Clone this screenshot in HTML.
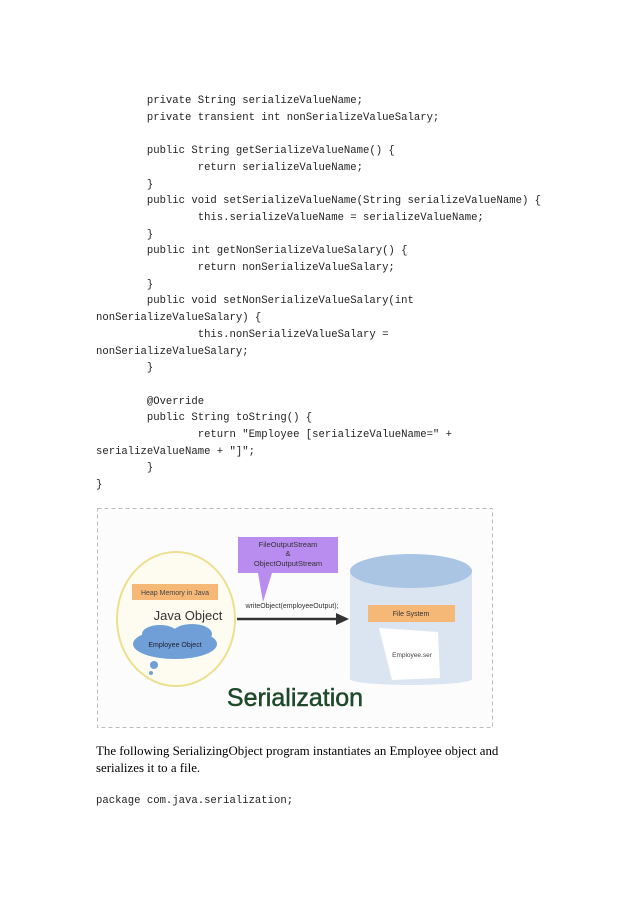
<!DOCTYPE html>
<html><head><meta charset="utf-8"><style>
body{margin:0;width:638px;height:902px;background:#fff;position:relative;overflow:hidden}
pre{position:absolute;left:96px;top:93px;margin:0;font-family:"Liberation Mono","Noto Sans CJK SC",monospace;font-size:10.6px;line-height:16.7px;color:#222}
.t{position:absolute;left:96px;font-family:"Liberation Serif",serif;font-size:12.9px;color:#000}
</style></head><body>
<pre>        private String serializeValueName;
        private transient int nonSerializeValueSalary;

        public String getSerializeValueName() {
                return serializeValueName;
        }
        public void setSerializeValueName(String serializeValueName) {
                this.serializeValueName = serializeValueName;
        }
        public int getNonSerializeValueSalary() {
                return nonSerializeValueSalary;
        }
        public void setNonSerializeValueSalary(int
nonSerializeValueSalary) {
                this.nonSerializeValueSalary =
nonSerializeValueSalary;
        }

        @Override
        public String toString() {
                return "Employee [serializeValueName=" +
serializeValueName + "]";
        }
}</pre>
<svg style="position:absolute;left:0;top:0" width="638" height="902" font-family="Liberation Sans, sans-serif">
<rect x="97.5" y="508.5" width="395" height="219" fill="#fcfcfc" stroke="#bbb" stroke-dasharray="4,3"/>
<ellipse cx="176" cy="619" rx="59" ry="67" fill="#fefcf0" stroke="#ecdf90" stroke-width="2"/>
<rect x="132" y="584" width="86" height="16" fill="#f6b877"/>
<text x="175" y="595" font-size="7" text-anchor="middle" fill="#444">Heap Memory in Java</text>
<text x="188" y="620" font-size="13" text-anchor="middle" fill="#333">Java Object</text>
<ellipse cx="175" cy="644" rx="42" ry="15" fill="#6f9fd6"/>
<ellipse cx="160" cy="634" rx="18" ry="9" fill="#6f9fd6"/>
<ellipse cx="192" cy="634" rx="20" ry="10" fill="#6f9fd6"/>
<text x="175" y="647" font-size="7" text-anchor="middle" fill="#223">Employee Object</text>
<circle cx="154" cy="665" r="4" fill="#6f9fd6"/><circle cx="151" cy="673" r="2" fill="#6f9fd6"/>
<rect x="238" y="537" width="100" height="36" fill="#b98cf0"/>
<polygon points="258,573 272,573 263,602" fill="#b98cf0"/>
<text x="288" y="547" font-size="7.5" text-anchor="middle" fill="#333">FileOutputStream</text>
<text x="288" y="556" font-size="7.5" text-anchor="middle" fill="#333">&amp;</text>
<text x="288" y="566" font-size="7.5" text-anchor="middle" fill="#333">ObjectOutputStream</text>
<text x="292" y="608" font-size="7" text-anchor="middle" fill="#333">writeObject(employeeOutput);</text>
<line x1="237" y1="619" x2="338" y2="619" stroke="#333" stroke-width="2.5"/>
<polygon points="336,613 349,619 336,625" fill="#333"/>
<rect x="350" y="571" width="122" height="108" fill="#dbe5f2"/>
<ellipse cx="411" cy="679" rx="61" ry="6" fill="#dbe5f2"/>
<ellipse cx="411" cy="571" rx="61" ry="17" fill="#a9c5e3"/>
<rect x="368" y="605" width="87" height="17" fill="#f6b877"/>
<text x="411" y="616" font-size="7" text-anchor="middle" fill="#333">File System</text>
<polygon points="379,628 438,632 440,678 392,680" fill="#fff"/>
<text x="412" y="657" font-size="6.5" text-anchor="middle" fill="#444">Employee.ser</text>
<text x="295" y="706" font-size="25" text-anchor="middle" fill="#1f4a2a" stroke="#1f4a2a" stroke-width="0.5">Serialization</text>
</svg>
<div class="t" style="top:744px">The following SerializingObject program instantiates an Employee object and</div>
<div class="t" style="top:761px">serializes it to a file.</div>
<pre style="top:793px">package com.java.serialization;</pre>
</body></html>
